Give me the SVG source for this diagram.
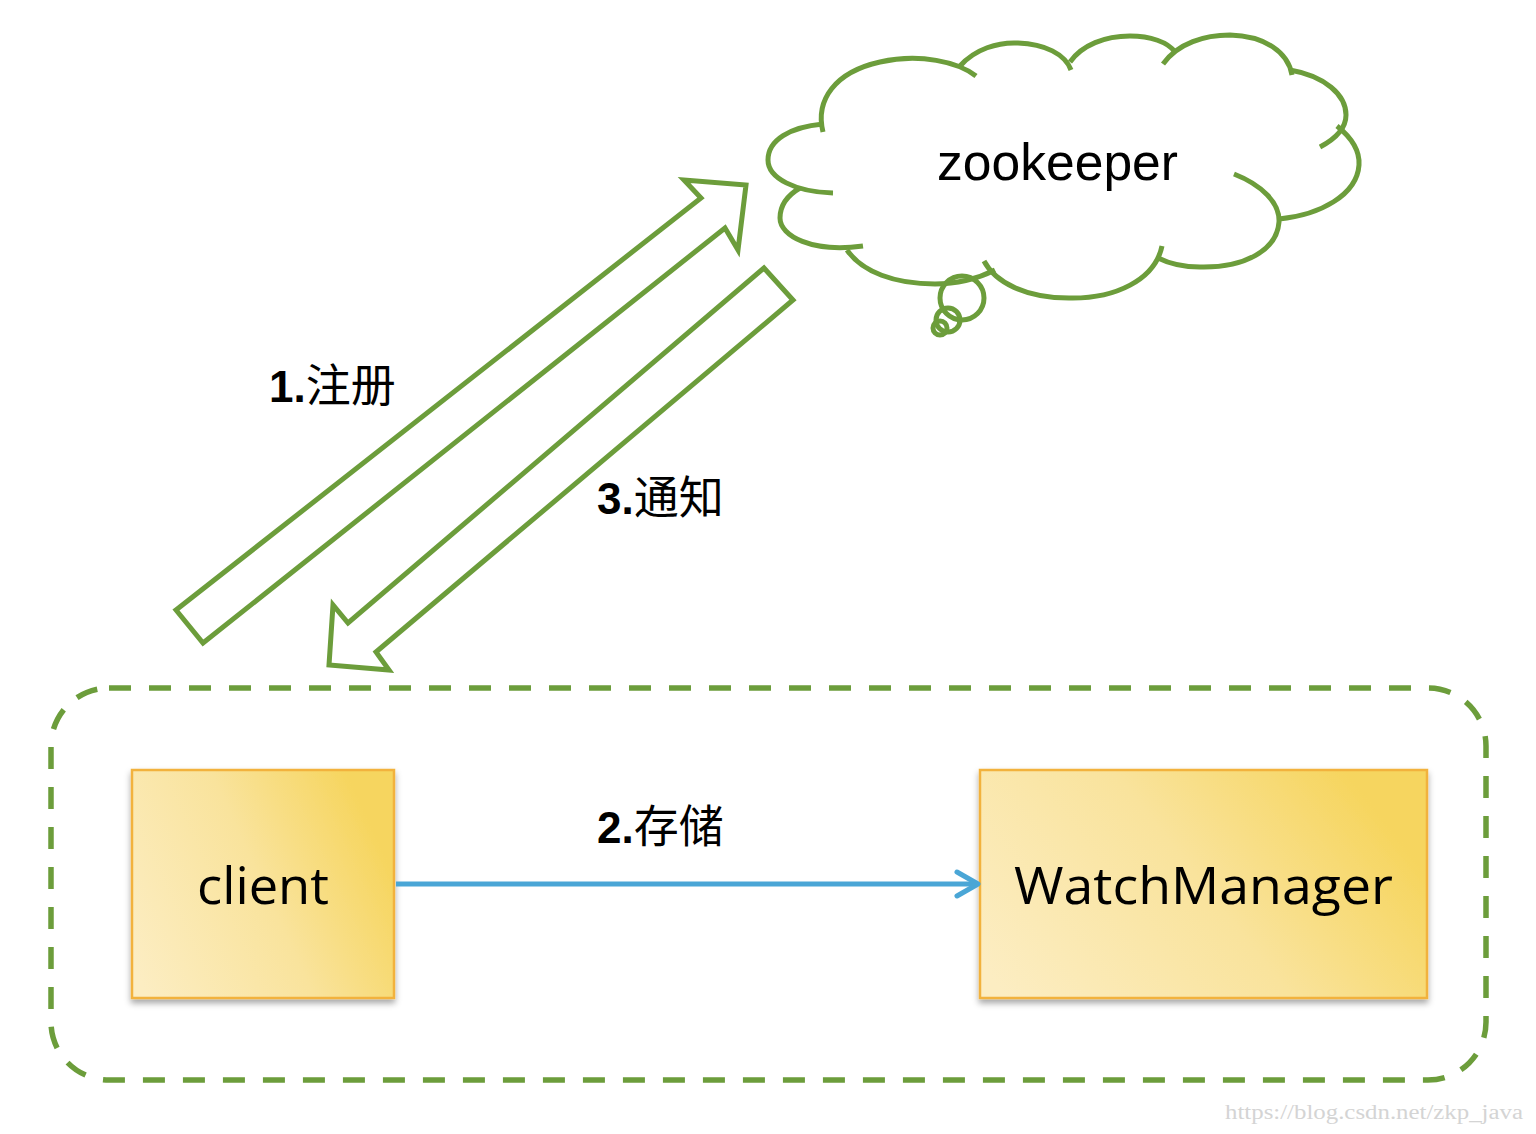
<svg xmlns="http://www.w3.org/2000/svg" width="1536" height="1134" viewBox="0 0 1536 1134">
<style>
.g{fill:none;stroke:#6c9d3b;stroke-width:5;stroke-linejoin:miter;stroke-linecap:butt}
.box{stroke:#f2b23c;stroke-width:2.5;filter:url(#sh)}
.bt{font-family:"Open Sans","DejaVu Sans",sans-serif;font-size:52px;fill:#000}
.lab{font-family:"Liberation Sans","Noto Sans CJK SC",sans-serif;font-size:44px;fill:#000}
.d{font-weight:bold}
.c{font-family:"Noto Sans CJK SC",sans-serif;font-weight:400;font-size:45px}
</style>
<defs>
<linearGradient id="yg" x1="0" y1="0.85" x2="1" y2="0.45">
<stop offset="0" stop-color="#fcedc2"/>
<stop offset="0.55" stop-color="#f9e39c"/>
<stop offset="1" stop-color="#f6d55e"/>
</linearGradient>
<filter id="sh" x="-10%" y="-10%" width="120%" height="125%">
<feDropShadow dx="0" dy="4" stdDeviation="3" flood-color="#000" flood-opacity="0.35"/>
</filter>
</defs>
<rect width="1536" height="1134" fill="#fff"/>

<g id="container">
<rect x="51" y="688" width="1435" height="392" rx="58" ry="58" fill="none" stroke="#6c9d3b" stroke-width="5.5" stroke-dasharray="22 18"/>
</g>

<g id="zookeeper">
<path class="g" d="M 823,132 C 815,100 835,72 880,62 C 920,53 958,62 976,76"/>
<path class="g" d="M 960,66 C 975,49 998,42 1018,43 C 1045,44 1065,54 1071,70"/>
<path class="g" d="M 1070,62 C 1082,45 1105,36 1130,36 C 1150,36 1168,42 1175,52"/>
<path class="g" d="M 1163,64 C 1178,43 1205,35 1230,35 C 1265,36 1288,52 1292,75"/>
<path class="g" d="M 1290,70 C 1325,76 1346,95 1346,115 C 1346,128 1337,138 1320,147"/>
<path class="g" d="M 1337,126 C 1352,138 1360,150 1359,165 C 1357,195 1320,215 1279,219"/>
<path class="g" d="M 1234,174 C 1262,185 1280,203 1279,222 C 1277,250 1245,268 1200,267 C 1183,267 1168,263 1158,258"/>
<path class="g" d="M 1162,246 C 1155,280 1115,299 1069,298 C 1025,298 995,282 984,261"/>
<path class="g" d="M 995,270 C 975,280 955,284 935,284 C 895,284 862,272 847,250"/>
<path class="g" d="M 863,246 C 812,253 780,236 780,218 C 780,205 788,195 800,188"/>
<path class="g" d="M 833,193 C 795,192 768,178 768,160 C 768,140 790,127 823,124"/>
<circle class="g" cx="962" cy="298" r="22"/>
<circle class="g" cx="948" cy="320" r="12"/>
<circle class="g" cx="940" cy="328" r="7"/>
<text x="937" y="180" font-family="Liberation Sans, Arial, sans-serif" font-size="52" fill="#000" textLength="241" lengthAdjust="spacingAndGlyphs">zookeeper</text>
</g>

<g id="client">
<rect class="box" x="132" y="770" width="262" height="228" fill="url(#yg)"/>
<text class="bt" x="263" y="904" text-anchor="middle" textLength="132" lengthAdjust="spacingAndGlyphs">client</text>
</g>

<g id="watchmanager">
<rect class="box" x="980" y="770" width="447" height="228" fill="url(#yg)"/>
<text class="bt" x="1014" y="904" textLength="379" lengthAdjust="spacingAndGlyphs">WatchManager</text>
</g>

<g id="connectors">
<polygon class="g" points="176,610 701,198 684,180 746,185 738,250 725,228 203,643"/>
<polygon class="g" points="764,268 348,623 333,605 329,665 389,670 376,652 793,300"/>
<line x1="396" y1="884" x2="978" y2="884" stroke="#4aa6d6" stroke-width="5"/>
<polyline points="957,872 978,884 957,896" fill="none" stroke="#4aa6d6" stroke-width="5" stroke-linecap="round" stroke-linejoin="round"/>
</g>

<g id="labels">
<text class="lab" x="269" y="402"><tspan class="d">1.</tspan><tspan class="c">注册</tspan></text>
<text class="lab" x="597" y="514"><tspan class="d">3.</tspan><tspan class="c">通知</tspan></text>
<text class="lab" x="597" y="843"><tspan class="d">2.</tspan><tspan class="c">存储</tspan></text>
</g>

<text x="1225" y="1119" font-family="Liberation Serif, serif" font-size="20" fill="#d4d4d4" textLength="298" lengthAdjust="spacingAndGlyphs">https://blog.csdn.net/zkp_java</text>
</svg>
